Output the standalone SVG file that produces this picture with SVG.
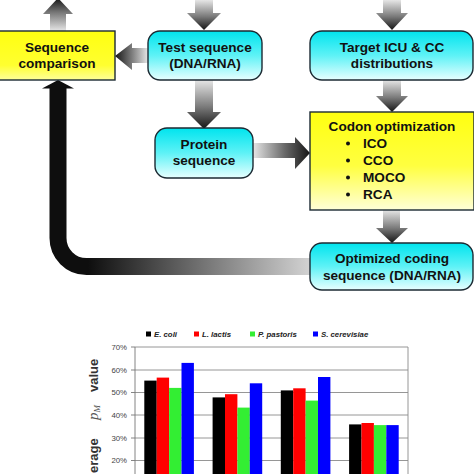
<svg xmlns="http://www.w3.org/2000/svg" width="474" height="474" viewBox="0 0 474 474">
<defs>
<linearGradient id="cyan" x1="0" y1="0" x2="0" y2="1"><stop offset="0" stop-color="#00e4ee"/><stop offset="0.5" stop-color="#5ef2f6"/><stop offset="1" stop-color="#e8ffff"/></linearGradient>
<linearGradient id="yellow" x1="0" y1="0" x2="0" y2="1"><stop offset="0" stop-color="#ffff10"/><stop offset="0.55" stop-color="#ffff40"/><stop offset="1" stop-color="#ffffd8"/></linearGradient>
<linearGradient id="yellow2" x1="0" y1="0" x2="0" y2="1"><stop offset="0" stop-color="#ffff10"/><stop offset="0.7" stop-color="#ffff30"/><stop offset="1" stop-color="#ffff9a"/></linearGradient>
<linearGradient id="gDown" x1="0" y1="0" x2="0" y2="1"><stop offset="0" stop-color="#e6e6e6"/><stop offset="0.55" stop-color="#7a7a7a"/><stop offset="1" stop-color="#151515"/></linearGradient>
<linearGradient id="gUp" x1="0" y1="1" x2="0" y2="0"><stop offset="0" stop-color="#e6e6e6"/><stop offset="0.55" stop-color="#7a7a7a"/><stop offset="1" stop-color="#151515"/></linearGradient>
<linearGradient id="gLeft" x1="1" y1="0" x2="0" y2="0"><stop offset="0" stop-color="#e6e6e6"/><stop offset="0.5" stop-color="#7a7a7a"/><stop offset="1" stop-color="#151515"/></linearGradient>
<linearGradient id="gRight" x1="0" y1="0" x2="1" y2="0"><stop offset="0" stop-color="#e6e6e6"/><stop offset="0.55" stop-color="#6a6a6a"/><stop offset="1" stop-color="#151515"/></linearGradient>
<linearGradient id="gLoop" gradientUnits="userSpaceOnUse" x1="88" y1="0" x2="312" y2="0"><stop offset="0" stop-color="#0e0e0e"/><stop offset="1" stop-color="#d4d4d4"/></linearGradient>
<style>
.box{stroke:#1c2a33;stroke-width:1.4}
.lbl{font-family:"Liberation Sans",Arial,sans-serif;font-weight:bold;font-size:13.6px;fill:#111;text-anchor:middle}
.bl{font-family:"Liberation Sans",Arial,sans-serif;font-weight:bold;font-size:13.6px;fill:#111}
.ax{font-family:"Liberation Sans",Arial,sans-serif;font-size:7.8px;fill:#444;text-anchor:end}
.lg{font-family:"Liberation Sans",Arial,sans-serif;font-size:7.8px;font-weight:bold;font-style:italic;fill:#222}
.grid{stroke:#8a8a8a;stroke-width:0.9;fill:none}
.yt{font-family:"Liberation Sans",Arial,sans-serif;font-weight:bold;font-size:13px;fill:#333}
</style>
</defs>
<rect width="474" height="474" fill="#fff"/>

<g id="connectors">
<polygon fill="url(#gUp)" points="50,31 50,14 43,14 58,-2 73,14 66,14 66,31"/>
<polygon fill="url(#gDown)" points="195,0 213,0 213,13 221,13 204,30 187,13 195,13"/>
<polygon fill="url(#gDown)" points="195,80 213,80 213,112 221,112 204,129 187,112 195,112"/>
<polygon fill="url(#gLeft)" points="148,48 132,48 132,43 115,56 132,70 132,63 148,63"/>
<polygon fill="url(#gRight)" points="253,143 295,143 295,137 310,153 295,169 295,158 253,158"/>
<polygon fill="url(#gDown)" points="383,0 401,0 401,13 408,13 392,30 376,13 383,13"/>
<polygon fill="url(#gDown)" points="383,80 401,80 401,96 408,96 392,112 376,96 383,96"/>
<polygon fill="url(#gDown)" points="383,210 400,210 400,228 408,228 392,243 376,228 383,228"/>
<path d="M312 266.5 H86.5 A28.5 28.5 0 0 1 58 238 V86" fill="none" stroke="url(#gLoop)" stroke-width="17"/>
<polygon fill="#0e0e0e" points="42,88.5 58,80 74,88.5"/>
</g>

<g id="seq-comparison">
<rect class="box" x="-1" y="31" width="116" height="49" fill="url(#yellow2)"/>
<text class="lbl" x="57" y="52">Sequence</text>
<text class="lbl" x="57" y="68">comparison</text>
</g>
<g id="test-sequence">
<rect class="box" x="148" y="31" width="114" height="49" rx="12" fill="url(#cyan)"/>
<text class="lbl" x="205" y="52">Test sequence</text>
<text class="lbl" x="205" y="68">(DNA/RNA)</text>
</g>
<g id="target">
<rect class="box" x="310" y="31" width="163" height="49" rx="12" fill="url(#cyan)"/>
<text class="lbl" x="392" y="52">Target ICU &amp; CC</text>
<text class="lbl" x="392" y="68">distributions</text>
</g>
<g id="protein">
<rect class="box" x="155" y="128" width="98" height="50" rx="12" fill="url(#cyan)"/>
<text class="lbl" x="204" y="149">Protein</text>
<text class="lbl" x="204" y="165">sequence</text>
</g>
<g id="codon-opt">
<rect class="box" x="310" y="112" width="164" height="98" fill="url(#yellow)"/>
<text class="lbl" x="392" y="131">Codon optimization</text>
<circle cx="348" cy="143.5" r="2" fill="#111"/>
<circle cx="348" cy="160.5" r="2" fill="#111"/>
<circle cx="348" cy="177.5" r="2" fill="#111"/>
<circle cx="348" cy="194.5" r="2" fill="#111"/>
<text class="bl" x="363" y="148">ICO</text>
<text class="bl" x="363" y="165">CCO</text>
<text class="bl" x="363" y="182">MOCO</text>
<text class="bl" x="363" y="199">RCA</text>
</g>
<g id="optimized">
<rect class="box" x="310" y="243" width="163" height="47" rx="12" fill="url(#cyan)"/>
<text class="lbl" x="392" y="263">Optimized coding</text>
<text class="lbl" x="392" y="280">sequence (DNA/RNA)</text>
</g>

<g id="chart">
<rect x="146" y="331.5" width="5" height="5" fill="#000"/>
<text class="lg" x="154" y="336.5">E. coli</text>
<rect x="194" y="331.5" width="5" height="5" fill="#f00"/>
<text class="lg" x="202" y="336.5">L. lactis</text>
<rect x="250" y="331.5" width="5" height="5" fill="#3e3"/>
<text class="lg" x="258" y="336.5">P. pastoris</text>
<rect x="313" y="331.5" width="5" height="5" fill="#00f"/>
<text class="lg" x="321" y="336.5">S. cerevisiae</text>

<g class="grid">
<line x1="135" y1="347" x2="408" y2="347"/>
<line x1="135" y1="370" x2="408" y2="370"/>
<line x1="135" y1="392.5" x2="408" y2="392.5"/>
<line x1="135" y1="415" x2="408" y2="415"/>
<line x1="135" y1="438" x2="408" y2="438"/>
<line x1="135" y1="460.5" x2="408" y2="460.5"/>
<line x1="408" y1="347" x2="408" y2="480"/>
</g>
<g stroke="#777" stroke-width="0.9">
<line x1="135" y1="347" x2="135" y2="480"/>
<line x1="131" y1="347" x2="135" y2="347"/>
<line x1="131" y1="370" x2="135" y2="370"/>
<line x1="131" y1="392.5" x2="135" y2="392.5"/>
<line x1="131" y1="415" x2="135" y2="415"/>
<line x1="131" y1="438" x2="135" y2="438"/>
<line x1="131" y1="460.5" x2="135" y2="460.5"/>
</g>
<text class="ax" x="127" y="349.5">70%</text>
<text class="ax" x="127" y="372.5">60%</text>
<text class="ax" x="127" y="395">50%</text>
<text class="ax" x="127" y="417.5">40%</text>
<text class="ax" x="127" y="440.5">30%</text>
<text class="ax" x="127" y="463">20%</text>

<g>
<rect x="144.3" y="380.6" width="12.4" height="100" fill="#000"/>
<rect x="156.7" y="377.6" width="12.4" height="100" fill="#f00"/>
<rect x="169.1" y="387.9" width="12.4" height="100" fill="#3e3"/>
<rect x="181.5" y="362.9" width="12.4" height="120" fill="#00f"/>
<rect x="212.6" y="397.4" width="12.4" height="100" fill="#000"/>
<rect x="225" y="394.2" width="12.4" height="100" fill="#f00"/>
<rect x="237.4" y="407.6" width="12.4" height="100" fill="#3e3"/>
<rect x="249.8" y="383.3" width="12.4" height="100" fill="#00f"/>
<rect x="280.8" y="390.4" width="12.4" height="100" fill="#000"/>
<rect x="293.2" y="388.3" width="12.4" height="100" fill="#f00"/>
<rect x="305.6" y="400.6" width="12.4" height="100" fill="#3e3"/>
<rect x="318" y="377" width="12.4" height="100" fill="#00f"/>
<rect x="349.1" y="424.4" width="12.4" height="60" fill="#000"/>
<rect x="361.5" y="423" width="12.4" height="60" fill="#f00"/>
<rect x="373.9" y="425.1" width="12.4" height="60" fill="#3e3"/>
<rect x="386.3" y="425.1" width="12.4" height="60" fill="#00f"/>
</g>

<text class="yt" transform="translate(98,392) rotate(-90)">value</text>
<text transform="translate(98,420) rotate(-90)" font-family="Liberation Serif,serif" font-style="italic" font-size="15" fill="#555">p<tspan font-size="9" dy="2">M</tspan></text>
<text class="yt" font-size="12.5" transform="translate(98,473) rotate(-90)">erage</text>
</g>
</svg>
